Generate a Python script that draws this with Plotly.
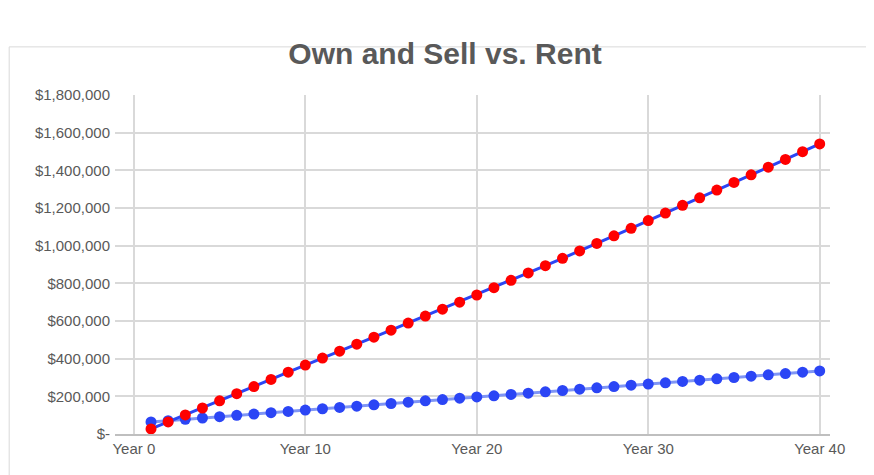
import plotly.graph_objects as go

years = list(range(1, 41))
own_sell = [27, 64, 101, 138, 176, 214, 252, 290, 328, 366,
            403, 440, 477, 514, 551, 589, 626, 663, 700, 738,
            777, 816, 855, 894, 933, 972, 1012, 1052, 1092, 1133,
            1173, 1214, 1254, 1295, 1336, 1376, 1417, 1458, 1499, 1540]
rent = [64, 71, 78, 85, 92, 99, 106, 113, 120, 127,
        134, 141, 148, 155, 162, 169, 176, 183, 190, 197,
        203, 210, 217, 224, 231, 238, 245, 252, 259, 265,
        272, 279, 286, 293, 300, 307, 314, 321, 328, 335]
x_ticks = [0, 10, 20, 30, 40]
x_labels = ["Year 0", "Year 10", "Year 20", "Year 30", "Year 40"]
y_ticks = list(range(0, 1800001, 200000))
y_labels = ["$-"] + ["${:,}".format(v) for v in y_ticks[1:]]

fig = go.Figure()
fig.add_trace(go.Scatter(x=years, y=[v * 1000 for v in rent], mode="lines+markers",
                         line=dict(color="#7f95f5", width=3),
                         marker=dict(color="#2b45f5", size=11), name="Rent"))
fig.add_trace(go.Scatter(x=years, y=[v * 1000 for v in own_sell], mode="lines+markers",
                         line=dict(color="#2b45f5", width=3),
                         marker=dict(color="#ff0000", size=11), name="Own and Sell"))

fig.update_layout(
    width=874, height=475, showlegend=False,
    paper_bgcolor="white", plot_bgcolor="white",
    margin=dict(l=107, r=52, t=87, b=49, autoexpand=False),
    font=dict(family="Liberation Sans, Arial", color="#595959", size=15),
    title=dict(text="<b>Own and Sell vs. Rent</b>", x=0.5, xanchor="center",
               y=0.905, yanchor="middle", font=dict(size=30, color="#595959")),
    shapes=[dict(type="rect", xref="paper", yref="paper", x0=-0.148, x1=1.071,
                 y0=-0.142, y1=1.142, line=dict(color="#d9d9d9", width=1))],
)
fig.update_xaxes(range=[-1.1, 40.6], tickvals=x_ticks, ticktext=x_labels,
                 showgrid=True, gridcolor="#d9d9d9", gridwidth=1.5, automargin=False,
                 showline=True, linecolor="#bfbfbf", linewidth=1.5, zeroline=False)
fig.update_yaxes(range=[0, 1800000], tickvals=y_ticks, ticktext=y_labels,
                 showgrid=True, gridcolor="#d9d9d9", gridwidth=1.5, automargin=False,
                 zeroline=False, ticks="", ticklabelstandoff=4)

fig.write_html("out.html")
